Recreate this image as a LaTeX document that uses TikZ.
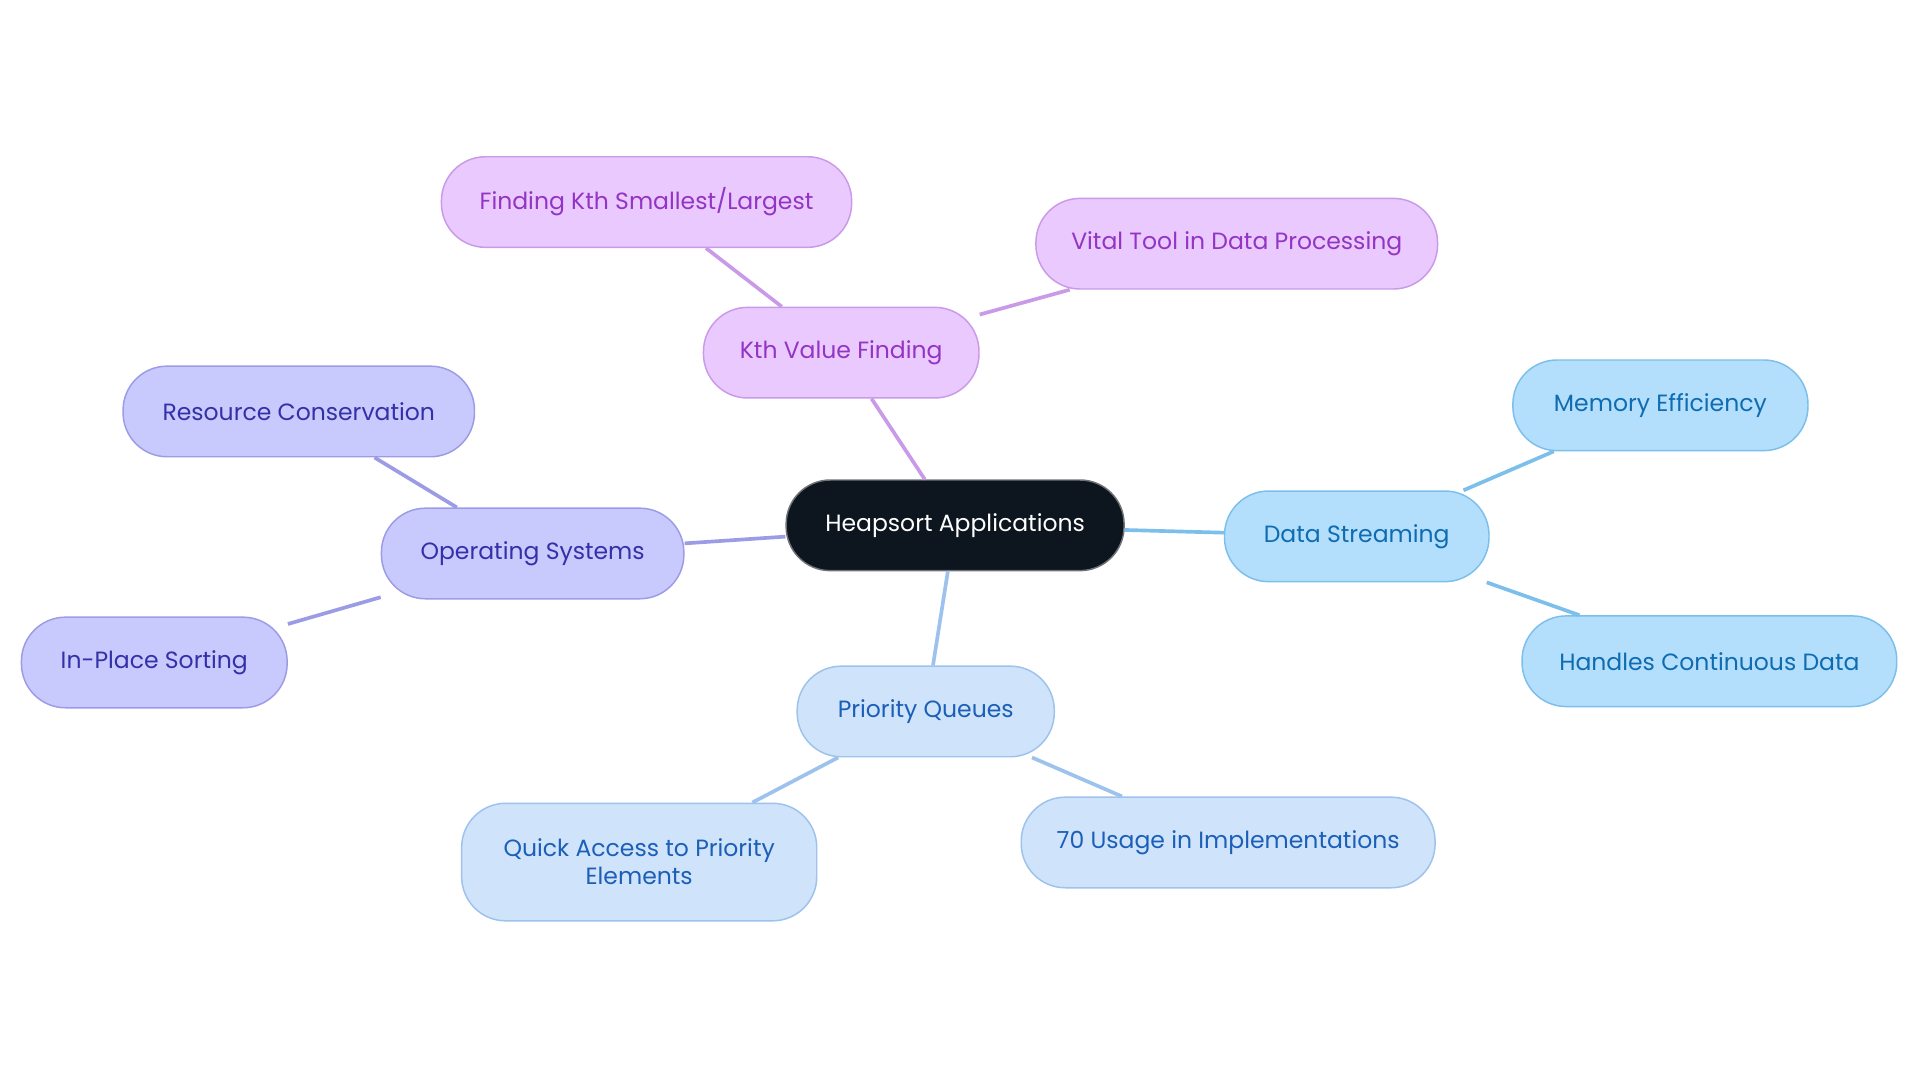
\documentclass[tikz,border=0pt]{standalone}
\usepackage{fontspec}
\setmainfont{Poppins}
\begin{document}
\begin{tikzpicture}[x=0.5pt,y=-0.5pt,
 base/.style={rounded corners=18pt,minimum height=37pt,font=\fontsize{9.6}{11.5}\selectfont,align=center,line width=0.6pt,inner sep=0pt},
 pur/.style={base,fill=pfill,draw=pdraw,text=ptext},
 ind/.style={base,fill=ifill,draw=idraw,text=itext},
 blu/.style={base,fill=bfill,draw=bdraw,text=btext},
 lbl/.style={base,fill=lfill,draw=ldraw,text=ltext},
 e/.style={line width=1.5pt}]
\definecolor{pfill}{HTML}{E9C9FE}\definecolor{pdraw}{HTML}{C99AE8}\definecolor{ptext}{HTML}{9334C4}
\definecolor{ifill}{HTML}{C8C9FD}\definecolor{idraw}{HTML}{9C9BE5}\definecolor{itext}{HTML}{3430A8}
\definecolor{bfill}{HTML}{B3DEFC}\definecolor{bdraw}{HTML}{7DBFEB}\definecolor{btext}{HTML}{0F6CB0}
\definecolor{lfill}{HTML}{CFE3FB}\definecolor{ldraw}{HTML}{9DC2EB}\definecolor{ltext}{HTML}{1C5FB8}
\definecolor{dark}{HTML}{0D151E}
\useasboundingbox (0,0) rectangle (1568,885);
\node[base,fill=dark,draw=dark!60,text=white,minimum width=138pt] (c) at (780,429) {Heapsort Applications};
\node[pur,minimum width=112.5pt] (k) at (687,288) {Kth Value Finding};
\node[pur,minimum width=167.5pt] (k1) at (528,165) {Finding Kth Smallest/Largest};
\node[pur,minimum width=164pt] (k2) at (1010,199) {Vital Tool in Data Processing};
\node[ind,minimum width=123.5pt] (o) at (435,452) {Operating Systems};
\node[ind,minimum width=143.5pt] (o1) at (244,336) {Resource Conservation};
\node[ind,minimum width=108.5pt] (o2) at (126,541) {In-Place Sorting};
\node[blu,minimum width=108pt] (d) at (1108,438) {Data Streaming};
\node[blu,minimum width=120.5pt] (d1) at (1356,331) {Memory Efficiency};
\node[blu,minimum width=153pt] (d2) at (1396,540) {Handles Continuous Data};
\node[lbl,minimum width=105pt] (p) at (756,581) {Priority Queues};
\node[lbl,minimum width=145pt,minimum height=48pt] (p1) at (522,704) {Quick Access to Priority\\Elements};
\node[lbl,minimum width=169pt] (p2) at (1003,688) {70 Usage in Implementations};
\begin{scope}[on background layer/.try]
\end{scope}
\draw[e,pdraw] (c) -- (k); \draw[e,pdraw] (k) -- (k1); \draw[e,pdraw] (k) -- (k2);
\draw[e,idraw] (c) -- (o); \draw[e,idraw] (o) -- (o1); \draw[e,idraw] (o) -- (o2);
\draw[e,bdraw] (c) -- (d); \draw[e,bdraw] (d) -- (d1); \draw[e,bdraw] (d) -- (d2);
\draw[e,ldraw] (c) -- (p); \draw[e,ldraw] (p) -- (p1); \draw[e,ldraw] (p) -- (p2);
\end{tikzpicture}
\end{document}
